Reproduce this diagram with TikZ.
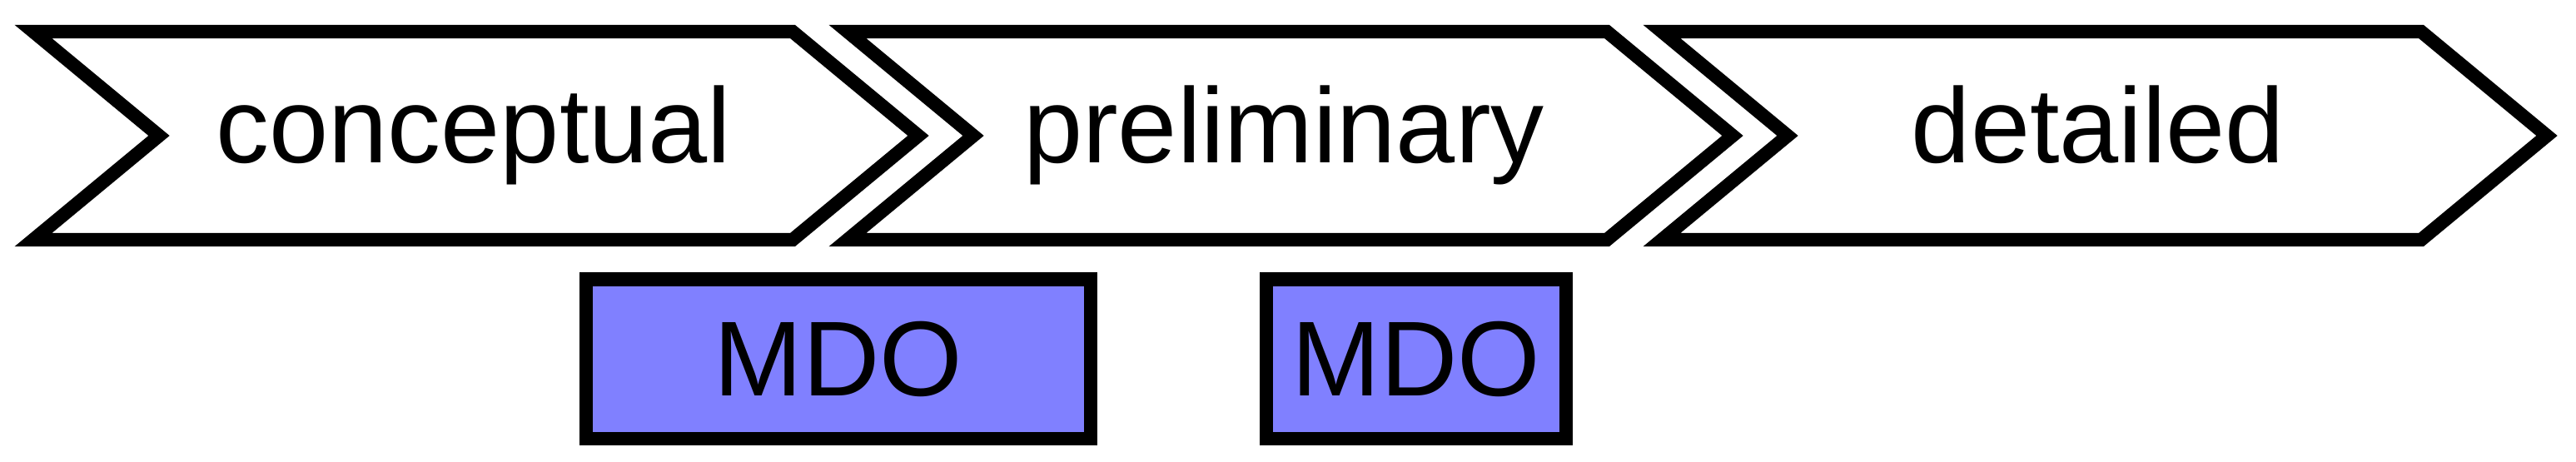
\documentclass[tikz,border=0pt]{standalone}
\usepackage{fontspec}
\setmainfont{Liberation Sans}
\usepackage{tikz}
\usetikzlibrary{positioning}

\begin{document}
\begin{tikzpicture}[
        phase/.style={draw, line width=2.3pt, line join=miter},
        stage/.style={anchor=base, inner sep=0pt, font=\fontsize{18.2}{22}\selectfont},
        mdo/.style={rectangle, draw, line width=2.3pt, fill=blue!50, inner sep=0pt, minimum height=0.9575cm, font=\fontsize{18.2}{22}\selectfont},
    ]
        \useasboundingbox (0,0) rectangle (15.47,2.77);

        % Design phases
        \draw[phase] (0.2,2.58) -- (4.76,2.58) -- (5.515,1.955) -- (4.76,1.33) -- (0.2,1.33) -- (0.955,1.955) -- cycle;
        \node[stage] (conc) at (2.845,1.79) {conceptual};

        \draw[phase] (5.09,2.58) -- (9.65,2.58) -- (10.405,1.955) -- (9.65,1.33) -- (5.09,1.33) -- (5.845,1.955) -- cycle;
        \node[stage] (prelim) at (7.71,1.79) {preliminary};

        \draw[phase] (9.98,2.58) -- (14.54,2.58) -- (15.295,1.955) -- (14.54,1.33) -- (9.98,1.33) -- (10.735,1.955) -- cycle;
        \node[stage] (detail) at (12.60,1.79) {detailed};

        % MDO blocks
        \node[mdo, minimum width=3.03cm] (mdo1) at (5.035,0.614) {MDO};
        \node[mdo, minimum width=1.8cm] (mdo2) at (8.505,0.614) {MDO};
    \end{tikzpicture}
\end{document}
